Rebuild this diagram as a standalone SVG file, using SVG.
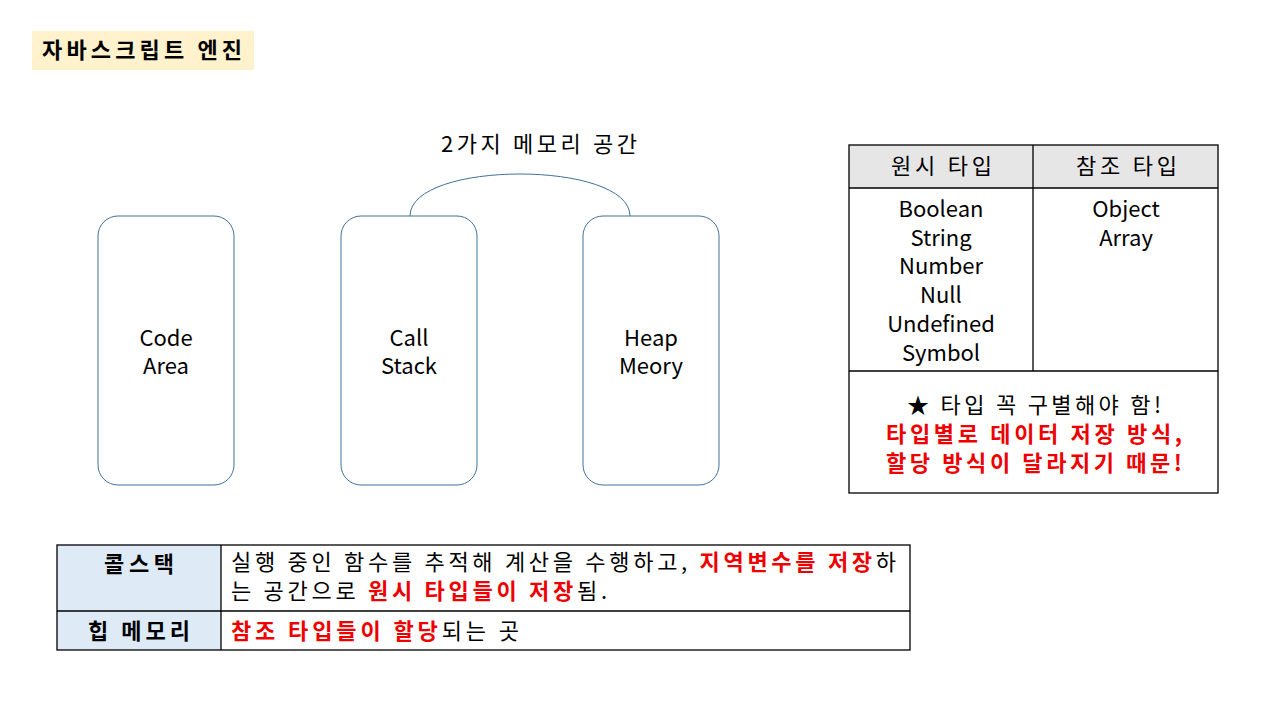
<svg xmlns="http://www.w3.org/2000/svg" width="1280" height="720" viewBox="0 0 1280 720">
<style>
text{font-family:"Noto Sans CJK KR","Noto Sans",sans-serif;font-size:22px;fill:#000}
.b{font-weight:bold}
.r{fill:#ee0000;font-weight:bold}
.box{fill:#fff;stroke:#41719c;stroke-width:1}
.t{stroke:#000;stroke-width:1.3;fill:none}
</style>
<rect width="1280" height="720" fill="#fff"/>
<g id="title"><rect x="32" y="31" width="222" height="39" fill="#fff2cc"/><text x="42" y="58" class="b" font-size="21" textLength="200" lengthAdjust="spacing">자바스크립트 엔진</text></g>
<g id="connectors"><path d="M410 216 C410 160 630 160 630 216" fill="none" stroke="#41719c"/></g>
<text x="441" y="152" textLength="196" lengthAdjust="spacing">2가지 메모리 공간</text>
<g id="code"><rect class="box" x="98" y="216" width="136" height="269" rx="20"/><text x="166" y="346" text-anchor="middle">Code</text><text x="166" y="374" text-anchor="middle">Area</text></g>
<g id="stack"><rect class="box" x="341" y="216" width="136" height="269" rx="20"/><text x="409" y="346" text-anchor="middle">Call</text><text x="409" y="374" text-anchor="middle">Stack</text></g>
<g id="heap"><rect class="box" x="583" y="216" width="136" height="269" rx="20"/><text x="651" y="346" text-anchor="middle">Heap</text><text x="651" y="374" text-anchor="middle">Meory</text></g>
<g id="types">
<rect x="849" y="145" width="369" height="43" fill="#e7e6e6"/>
<rect class="t" x="849" y="145" width="369" height="348"/>
<line class="t" x1="849" y1="188" x2="1218" y2="188"/>
<line class="t" x1="1033" y1="145" x2="1033" y2="371"/>
<line class="t" x1="849" y1="371" x2="1218" y2="371"/>
<text x="891" y="174" textLength="101" lengthAdjust="spacing">원시 타입</text>
<text x="1076" y="174" textLength="101" lengthAdjust="spacing">참조 타입</text>
<g text-anchor="middle"><text x="941" y="217">Boolean</text><text x="941" y="246">String</text><text x="941" y="274">Number</text><text x="941" y="303">Null</text><text x="941" y="332">Undefined</text><text x="941" y="361">Symbol</text>
<text x="1126" y="217">Object</text><text x="1126" y="246">Array</text></g>
<text x="907" y="413" textLength="254" lengthAdjust="spacing">★ 타입 꼭 구별해야 함!</text>
<text x="886" y="442" class="r" textLength="296" lengthAdjust="spacing">타입별로 데이터 저장 방식,</text>
<text x="886" y="471" class="r" textLength="296" lengthAdjust="spacing">할당 방식이 달라지기 때문!</text>
</g>
<g id="bottom">
<rect x="57" y="545" width="164" height="105" fill="#deebf7"/>
<rect class="t" x="57" y="545" width="853" height="105"/>
<line class="t" x1="57" y1="611" x2="910" y2="611"/>
<line class="t" x1="221" y1="545" x2="221" y2="650"/>
<text x="104" y="572" class="b" textLength="70" lengthAdjust="spacing">콜스택</text>
<text x="88" y="639" class="b" textLength="102" lengthAdjust="spacing">힙 메모리</text>
<text x="231" y="570" textLength="665" lengthAdjust="spacing">실행 중인 함수를 추적해 계산을 수행하고, <tspan class="r">지역변수를 저장</tspan>하</text>
<text x="231" y="599" textLength="376" lengthAdjust="spacing">는 공간으로 <tspan class="r">원시 타입들이 저장</tspan>됨.</text>
<text x="231" y="639" textLength="288" lengthAdjust="spacing"><tspan class="r">참조 타입들이 할당</tspan>되는 곳</text>
</g>
</svg>
